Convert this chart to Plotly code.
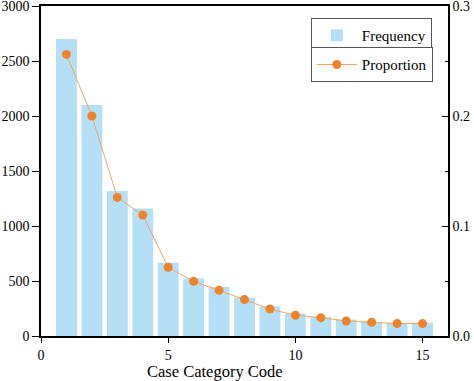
import plotly.graph_objects as go

codes = list(range(1, 16))
frequency = [2700, 2100, 1318, 1158, 667, 522, 445, 349, 270, 204, 173, 149, 127, 118, 122]
proportion = [0.256, 0.200, 0.126, 0.110, 0.0625, 0.0497, 0.0415, 0.0331, 0.0245,
              0.0188, 0.0167, 0.0136, 0.0124, 0.0113, 0.0113]
x_title = "Case Category Code"

FONT = "Liberation Serif"

fig = go.Figure()
fig.add_trace(go.Bar(
    x=codes, y=frequency, name="Frequency", width=0.82,
    marker=dict(color="#b5dff7", line=dict(width=0)),
    legend="legend", showlegend=True,
))
fig.add_trace(go.Scatter(
    x=codes, y=proportion, name="Proportion", yaxis="y2",
    mode="lines+markers",
    line=dict(color="#eea66a", width=1),
    marker=dict(color="#f0832a", size=9),
    legend="legend2", showlegend=True,
))

fig.add_annotation(
    text=x_title, xref="paper", yref="paper", x=0.4275, y=-0.109,
    xanchor="center", yanchor="middle", showarrow=False,
    font=dict(size=16.5, family=FONT, color="black"),
)

fig.update_layout(
    width=474, height=381,
    margin=dict(l=41, r=26, t=6, b=45),
    paper_bgcolor="white", plot_bgcolor="white",
    font=dict(family=FONT, size=14, color="black"),
    showlegend=True,
    xaxis=dict(
        range=[0, 16], tickvals=[0, 5, 10, 15],
        ticks="outside", ticklen=5, tickwidth=1, tickcolor="black",
        showline=True, linecolor="black", linewidth=1.5, mirror=True,
        showgrid=False, zeroline=False, automargin=False,
        tickfont=dict(size=14, family=FONT), ticklabeloverflow="allow",
    ),
    yaxis=dict(
        range=[0, 3000], tickvals=[0, 500, 1000, 1500, 2000, 2500, 3000],
        ticks="outside", ticklen=7, tickwidth=1, tickcolor="black",
        showline=True, linecolor="black", linewidth=1.5,
        showgrid=False, zeroline=False, tickfont=dict(size=14, family=FONT), automargin=False,
        ticklabeloverflow="allow",
    ),
    yaxis2=dict(
        overlaying="y", side="right", range=[0, 0.3],
        tickvals=[0, 0.1, 0.2, 0.3], ticktext=["0.0", "0.1", "0.2", "0.3"],
        ticks="inside", ticklen=6, tickwidth=1, tickcolor="black",
        minor=dict(tickvals=[0.05, 0.15, 0.25], ticks="inside", ticklen=3, tickcolor="black"),
        showline=True, linecolor="black", linewidth=1.5,
        showgrid=False, zeroline=False, tickfont=dict(size=14, family=FONT), automargin=False,
        ticklabeloverflow="allow",
    ),
    legend=dict(
        x=0.663, y=0.964, xanchor="left", yanchor="top", xref="paper", yref="paper",
        bordercolor="#555555", borderwidth=1, bgcolor="white",
        font=dict(size=15, family=FONT), itemwidth=40, visible=True,
    ),
    legend2=dict(
        x=0.663, y=0.875, xanchor="left", yanchor="top", xref="paper", yref="paper",
        bordercolor="#555555", borderwidth=1, bgcolor="white",
        font=dict(size=15, family=FONT), itemwidth=40, visible=True,
    ),
)

fig.write_html(
    "out.html",
    config={"displayModeBar": False},
    post_script="document.body.style.margin='0';document.body.style.padding='0';",
)
